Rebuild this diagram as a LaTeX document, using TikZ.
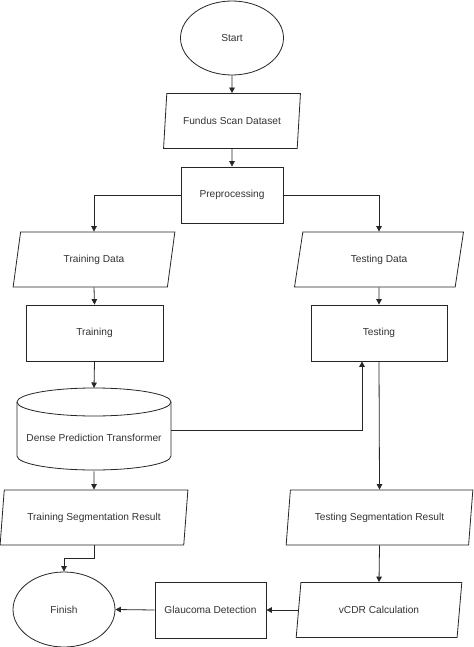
\documentclass[tikz,border=0pt]{standalone}
\usepackage{fontspec}
\setmainfont{Liberation Sans}
\usetikzlibrary{shapes.geometric,arrows.meta,calc}
\tikzset{
  base/.style={draw=black!85, line width=0.8bp, text=black!80, font=\fontsize{10.2}{12}\selectfont, inner sep=0pt},
  procbox/.style={base, rectangle, minimum width=#1, minimum height=56bp},
  iobox/.style={base, trapezium, trapezium left angle=72, trapezium right angle=108, trapezium stretches=true, minimum width=#1, minimum height=55bp},
  termbox/.style={base, ellipse, minimum width=103bp, minimum height=74bp},
  arr/.style={draw=black!85, line width=0.8bp, -{Triangle[length=5.5bp,width=5.5bp]}},
  ln/.style={draw=black!85, line width=0.8bp}
}
\begin{document}
\begin{tikzpicture}[x=1bp,y=-1bp]
\useasboundingbox[fill=white] (0,0) rectangle (474,647);
\node[termbox] (start) at (232,38) {Start};
\node[iobox=137bp] (fundus) at (232,121) {Fundus Scan Dataset};
\node[procbox=102bp] (pre) at (232,195) {Preprocessing};
\node[iobox=162bp] (trdata) at (94,259.5) {Training Data};
\node[iobox=169bp] (tedata) at (379,259.5) {Testing Data};
\node[procbox=137bp] (training) at (94.5,333) {Training};
\node[procbox=136bp] (testing) at (379,333) {Testing};
\node[base, draw=none, minimum width=154bp, minimum height=66bp] (dpt) at (94,438) {Dense Prediction Transformer};
\draw[ln] (17,402) -- (17,456) arc[start angle=180, end angle=0, x radius=77, y radius=14] -- (171,402);
\draw[ln] (94,402) ellipse[x radius=77, y radius=14];
\node[iobox=188bp] (trseg) at (94,517.5) {Training Segmentation Result};
\node[iobox=187bp] (teseg) at (379.5,517.5) {Testing Segmentation Result};
\node[termbox, minimum width=102bp, minimum height=75bp] (finish) at (64,609.5) {Finish};
\node[procbox=111bp] (glauc) at (210.5,610) {Glaucoma Detection};
\node[iobox=166bp] (vcdr) at (379,610) {vCDR Calculation};
\coordinate (dptin) at (94,388);
\coordinate (dptout) at (171,430);
\coordinate (tin) at ($(testing.south)+(-17bp,0)$);

\draw[arr] (start.south) -- (fundus.north);
\draw[arr] (fundus.south) -- (pre.north);
\draw[arr] (pre.west) -| (trdata.north);
\draw[arr] (pre.east) -| (tedata.north);
\draw[arr] (trdata.south) -- (training.north);
\draw[arr] (tedata.south) -- (testing.north);
\draw[arr] (training.south) -- (dptin);
\draw[arr] (dptout) -| (tin);
\draw[arr] (testing.south) -- (teseg.north);
\draw[arr] (teseg.south) -- (vcdr.north);
\draw[arr] (vcdr.west) -- (glauc.east);
\draw[arr] (glauc.west) -- (finish.east);
\draw[arr] (trseg.south) -- ++(0,13) -| (finish.north);
\draw[arr] (dpt.south) -- (trseg.north);
\end{tikzpicture}
\end{document}
